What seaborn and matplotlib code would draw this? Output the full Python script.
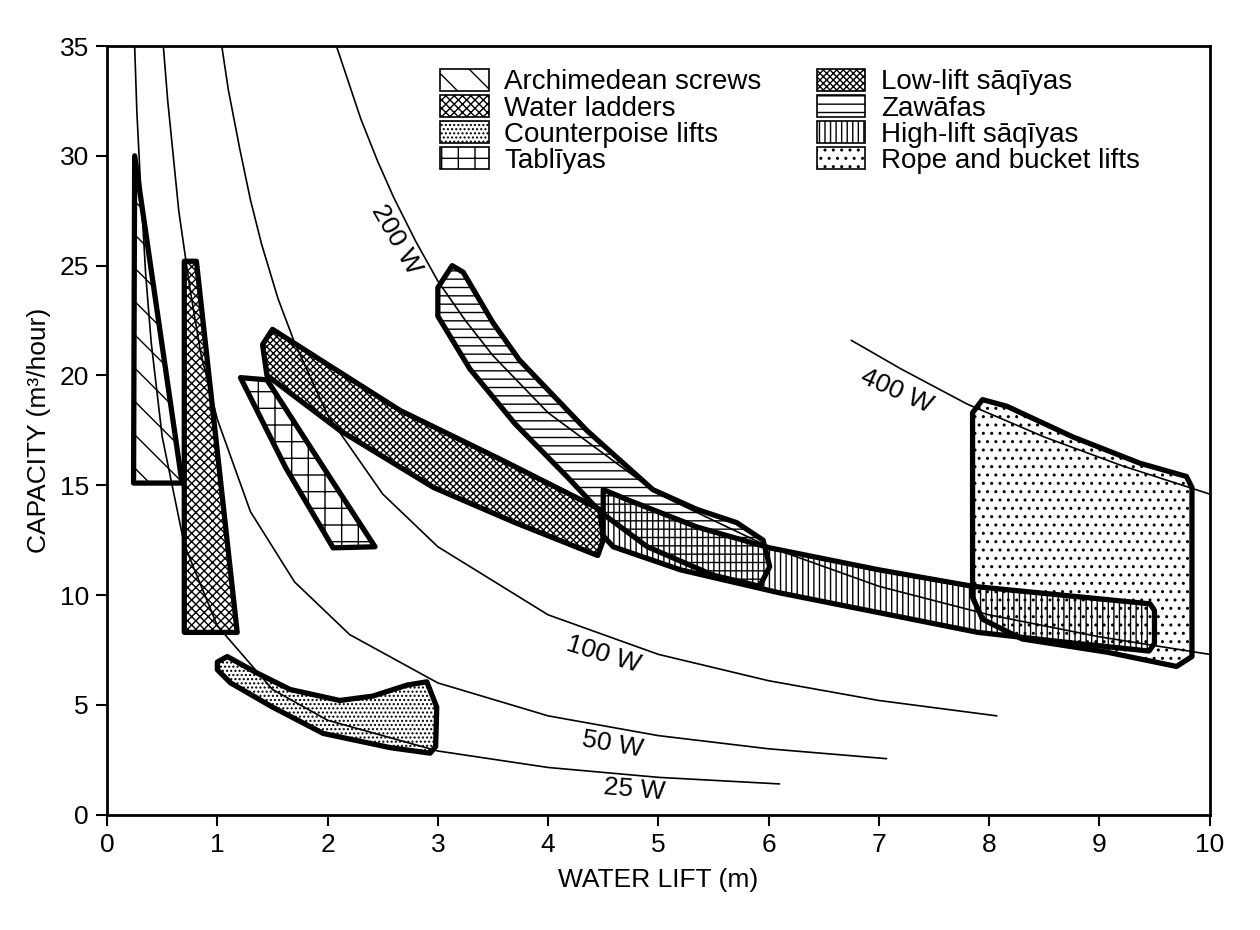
#---IMPORTS---
import matplotlib
matplotlib.use("Agg")
import matplotlib.pyplot as plt
from matplotlib.patches import Patch
import seaborn as sns

#---DATA---
# iso-power curves: water lift (m) vs capacity (m3/hour)
lift_25 = [0.25, 0.27, 0.3, 0.35, 0.4, 0.5, 0.7, 1.0, 1.5, 2.0, 3.0, 4.0, 5.0, 6.1]
cap_25 = [35, 32.0, 29, 24.6, 21.5, 17.2, 12.3, 8.6, 5.7, 4.3, 2.9, 2.15, 1.7, 1.4]
lift_50 = [0.51, 0.55, 0.6, 0.65, 0.75, 0.85, 1.0, 1.3, 1.7, 2.2, 3.0, 4.0, 5.0, 6.0, 7.07]
cap_50 = [35, 32.5, 30, 27.5, 24, 21, 18, 13.8, 10.6, 8.2, 6.0, 4.5, 3.6, 3.0, 2.55]
lift_100 = [1.04, 1.1, 1.2, 1.3, 1.4, 1.55, 1.7, 2.0, 2.5, 3.0, 4.0, 5.0, 6.0, 7.0, 8.07]
cap_100 = [35, 33, 30.4, 28, 26, 23.5, 21.5, 18.2, 14.6, 12.2, 9.1, 7.3, 6.1, 5.2, 4.5]
lift_200 = [2.08, 2.2, 2.3, 2.45, 2.6, 2.8, 3.0, 3.25, 3.5, 4.0, 5.0, 6.0, 7.0, 8.0, 9.0, 10.0]
cap_200 = [35, 33.2, 31.7, 29.8, 28.1, 26.1, 24.3, 22.5, 20.9, 18.3, 14.6, 12.2, 10.4, 9.1, 8.1, 7.3]
lift_400 = [6.75, 7.2, 7.8, 8.5, 9.2, 10.0]
cap_400 = [21.6, 20.3, 18.7, 17.2, 15.9, 14.6]

power_labels = ["25 W", "50 W", "100 W", "200 W", "400 W"]
label_lift = [4.78, 4.58, 4.5, 2.62, 7.16]
label_cap = [1.15, 3.2, 7.3, 26.2, 19.3]

# operating ranges of the devices (outlines)
screw_lift = [0.25, 0.24, 0.68]
screw_cap = [30.0, 15.1, 15.1]

ladder_lift = [0.70, 0.70, 1.18, 0.81]
ladder_cap = [25.2, 8.3, 8.3, 25.2]

counterpoise_lift = [1.0, 1.09, 1.36, 1.66, 2.11, 2.41, 2.72, 2.9, 2.99, 2.98, 2.93,
                     2.57, 1.96, 1.5, 1.12, 1.0]
counterpoise_cap = [6.95, 7.2, 6.45, 5.7, 5.2, 5.4, 5.9, 6.05, 4.9, 3.1, 2.8,
                    3.05, 3.7, 4.9, 6.0, 6.6]

tabliya_lift = [1.21, 1.45, 2.08, 2.43, 2.05, 1.62]
tabliya_cap = [19.9, 19.8, 14.9, 12.2, 12.15, 15.8]

lowlift_lift = [1.41, 1.5, 2.0, 2.66, 3.56, 4.47, 4.5, 4.45, 3.7, 2.96, 2.11, 1.45]
lowlift_cap = [21.4, 22.1, 20.5, 18.4, 16.2, 13.9, 12.5, 11.8, 13.3, 14.9, 17.5, 20.0]

zawafa_lift = [3.0, 3.13, 3.23, 3.5, 3.74, 4.35, 4.95, 5.35, 5.71, 5.95, 6.01, 5.92,
               5.5, 4.9, 4.47, 4.17, 3.7, 3.29, 3.0]
zawafa_cap = [24.0, 25.0, 24.7, 22.4, 20.7, 17.5, 14.8, 13.9, 13.3, 12.5, 11.3, 10.4,
              10.9, 12.2, 13.8, 15.4, 17.8, 20.3, 22.7]

highlift_lift = [4.5, 4.74, 5.35, 6.01, 7.0, 7.85, 9.46, 9.5, 9.5, 9.45,
                 8.7, 7.9, 7.0, 6.1, 5.2, 4.59, 4.5]
highlift_cap = [14.8, 14.3, 13.1, 12.15, 11.15, 10.4, 9.6, 9.3, 7.8, 7.45,
                7.85, 8.3, 9.2, 10.1, 11.15, 12.2, 12.7]

rope_lift = [7.94, 8.16, 8.76, 9.37, 9.79, 9.84, 9.84, 9.7, 9.07, 8.3, 7.94, 7.85, 7.85]
rope_cap = [18.9, 18.6, 17.2, 16.0, 15.4, 14.9, 7.2, 6.75, 7.4, 8.0, 8.9, 9.9, 18.3]

#---STYLE---
sns.set_style("ticks")
plt.rcParams["font.family"] = ["Liberation Sans", "DejaVu Sans"]
plt.rcParams["hatch.linewidth"] = 1.0
plt.rcParams["text.color"] = "black"
plt.rcParams["axes.labelcolor"] = "black"
plt.rcParams["xtick.color"] = "black"
plt.rcParams["ytick.color"] = "black"

fig, ax = plt.subplots(figsize=(12.6, 9.3), dpi=100)
fig.subplots_adjust(left=0.085, right=0.960, bottom=0.124, top=0.9505)

#---POWER CURVES---
curves = [(lift_25, cap_25), (lift_50, cap_50), (lift_100, cap_100),
          (lift_200, cap_200), (lift_400, cap_400)]
for lx, cy in curves:
    sns.lineplot(x=lx, y=cy, ax=ax, color="black", lw=1.2, zorder=1)

rotations = [-5, -10, -17, -60, -24]
for i, txt in enumerate(power_labels):
    bb = dict(fc="white", ec="none", pad=1) if txt == "200 W" else None
    ax.text(label_lift[i], label_cap[i], txt, rotation=rotations[i], fontsize=19,
            ha="center", va="center", bbox=bb, zorder=3)

#---DEVICE REGIONS---
regions = [
    ("Archimedean screws", screw_lift, screw_cap, "\\"),
    ("Water ladders", ladder_lift, ladder_cap, "xxxx"),
    ("Counterpoise lifts", counterpoise_lift, counterpoise_cap, "...."),
    ("Tablīyas", tabliya_lift, tabliya_cap, "+"),
    ("Low-lift sāqīyas", lowlift_lift, lowlift_cap, "xxxxx"),
    ("Zawāfas", zawafa_lift, zawafa_cap, "--"),
    ("High-lift sāqīyas", highlift_lift, highlift_cap, "|||"),
    ("Rope and bucket lifts", rope_lift, rope_cap, ".."),
]
handles = []
for name, lx, cy, h in regions:
    ax.fill(lx, cy, facecolor="none", edgecolor="black", hatch=h, lw=3.8,
            joinstyle="round", zorder=2)
    handles.append(Patch(facecolor="white", edgecolor="black", hatch=h, lw=1.2, label=name))

ax.legend(handles=handles, ncol=2, loc="upper left", bbox_to_anchor=(0.292, 0.985),
          frameon=False, fontsize=20, handlelength=1.75, handleheight=0.85,
          labelspacing=-0.02, handletextpad=0.55, columnspacing=2.0, borderaxespad=0)

#---AXES---
ax.set_xlim(0, 10)
ax.set_ylim(0, 35)
ax.set_xticks(range(0, 11))
ax.set_yticks(range(0, 36, 5))
ax.set_xlabel("WATER LIFT (m)", fontsize=19, labelpad=8)
ax.set_ylabel("CAPACITY (m³/hour)", fontsize=19, labelpad=6)
ax.tick_params(axis="both", labelsize=19, length=8, width=1.5, direction="out", pad=5)
for s in ax.spines.values():
    s.set_linewidth(2)
    s.set_color("black")

fig.savefig("out.png", dpi=100)
